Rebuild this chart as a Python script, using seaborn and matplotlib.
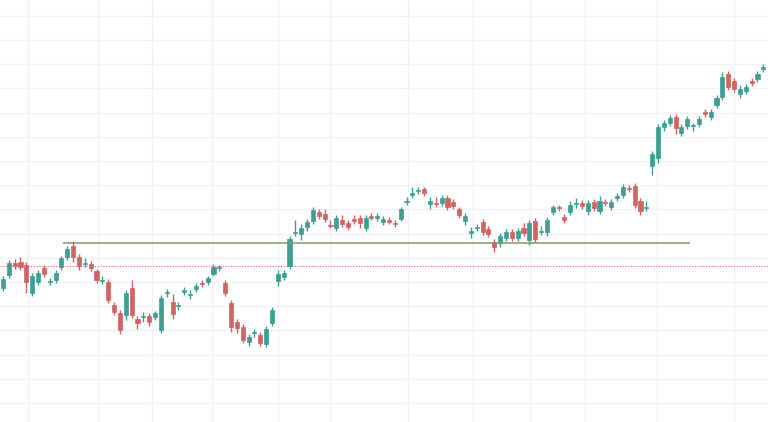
import numpy as np
import matplotlib
matplotlib.use("Agg")
import matplotlib.pyplot as plt
import seaborn as sns

opens = [134,147,159,160,157,129,140,154,140,142,155,165,176,165,158,158,151,141,140,117,
         109,107,134,103,105,106,105,92,129,120,116,130,127,133,139,140,148,154,139,119,
         100,95,80,89,87,78,99,141,145,156,189,188,195,201,210,208,197,194,202,199,
         203,204,194,206,204,200,202,199,203,220,227,231,233,218,219,219,224,220,213,201,
         189,194,200,193,180,179,184,190,184,194,182,201,190,190,210,215,205,210,218,219,
         211,220,211,220,215,224,227,234,236,221,214,256,264,295,299,305,289,296,296,298,
         310,305,317,325,348,341,328,331,341,343,353]
closes = [143,159,156,155,140,146,149,148,141,149,164,173,165,156,158,154,142,141,122,110,
          92,129,107,99,105,100,109,124,129,108,116,132,128,136,138,144,155,154,129,95,
          94,82,85,89,79,93,112,148,149,183,189,194,200,212,206,203,196,204,198,195,
          201,199,204,204,206,203,200,198,213,221,229,232,229,221,218,224,215,216,207,206,
          191,195,190,188,175,186,190,184,191,189,199,183,190,202,215,214,202,217,219,216,
          219,214,221,219,220,226,235,233,217,211,214,268,295,299,304,294,295,303,296,303,
          308,310,324,345,335,333,333,335,339,348,355]
upper_wick = [3,3,4,5,3,3,3,3,3,3,2,3,5,3,6,3,2,5,3,3,
              3,3,8,3,5,3,2,3,4,8,4,3,4,3,3,2,3,3,3,3,
              3,3,3,4,3,3,3,4,3,3,13,4,3,3,3,5,5,3,5,3,
              4,3,3,3,3,3,3,3,2,4,6,3,2,4,6,3,3,3,2,3,
              4,3,3,3,3,3,3,3,3,5,3,3,6,3,2,2,3,4,5,3,
              3,3,5,3,3,3,3,3,3,3,7,3,3,3,3,3,3,3,3,3,
              3,3,3,5,3,3,4,3,3,3,3]
lower_wick = [3,3,3,3,11,3,3,3,3,3,3,3,5,4,3,3,3,3,3,3,
              4,5,3,6,5,4,3,3,4,5,4,3,4,3,3,3,2,3,3,5,
              5,3,4,4,3,3,3,5,3,3,3,6,4,3,3,3,2,3,3,3,
              3,5,3,2,3,3,2,3,2,3,3,3,3,5,3,3,3,3,3,4,
              5,3,3,3,5,4,3,3,3,3,5,3,3,4,3,3,3,3,4,3,
              4,3,3,3,3,3,3,3,3,4,3,9,5,4,3,6,3,3,5,3,
              3,3,3,3,3,3,4,3,3,3,3]

support_level = 179
ref_level = 156

sns.set_theme(style="white")
fig = plt.figure(figsize=(7.68, 4.22), dpi=100)
ax = fig.add_axes([0, 0, 1, 1])

o = np.array(opens, float); c = np.array(closes, float)
hi = np.maximum(o, c) + np.array(upper_wick)
lo = np.minimum(o, c) - np.array(lower_wick)
x = np.arange(len(o))
up = c >= o
green, red = "#3f9e94", "#cf6462"
cols = np.where(up, green, red)

ax.vlines(x, lo, hi, colors=cols, linewidth=1, zorder=3)
ax.bar(x, np.maximum(np.abs(c - o), 0.8), bottom=np.minimum(o, c), width=0.7,
       color=cols, edgecolor=cols, linewidth=0.5, zorder=4)

ax.hlines(support_level, 10.3, 117.4, color="#7a9a6e", linewidth=1.1, zorder=5)
ax.axhline(ref_level, color="#e07070", linewidth=0.8, linestyle=(0, (1, 1.5)), zorder=2)

ax.set_xlim(-0.5, 130.8)
ax.set_ylim(0, 422)
ax.set_xticks([4.3, 16.2, 25.5, 35.7, 47, 55.9, 69.2, 80.3, 90.1, 99.5, 111.8, 125])
ax.set_yticks(np.arange(19, 422, 24.2))
ax.grid(True, color="#f0f2f8", linewidth=1)
ax.tick_params(labelbottom=False, labelleft=False, length=0)
for s in ax.spines.values():
    s.set_visible(False)
fig.savefig("out.png", dpi=100)
